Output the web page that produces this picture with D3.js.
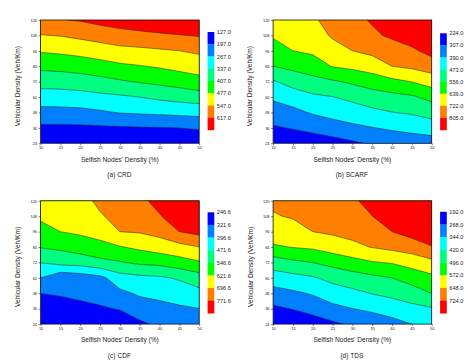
<!DOCTYPE html>
<html><head><meta charset="utf-8">
<script src="https://cdn.jsdelivr.net/npm/d3@7"></script>
<style>
body{margin:0;background:#fff}
svg text{font-family:"Liberation Sans",Arial,sans-serif;fill:#222}
</style>
</head><body>
<svg id="chart" width="474" height="363"></svg>
<script>
// ---- data ----
const xTicks = [10, 15, 20, 25, 30, 35, 40, 45, 50];            // Selfish Nodes' Density (%)
const yTicks = [24, 36, 48, 60, 72, 84, 96, 108, 120];          // Vehicular Density (Veh/Km)
const bandColors = ["#0000ff", "#0080ff", "#00ffff", "#00ff80", "#00ff00", "#ffff00", "#ff8000", "#ff0000"];

const crdLevels   = [127.0, 197.0, 267.0, 337.0, 407.0, 477.0, 547.0, 617.0];
const scarfLevels = [224.0, 307.0, 390.0, 473.0, 556.0, 639.0, 722.0, 805.0];
const cdfLevels   = [246.6, 321.6, 396.6, 471.6, 546.6, 621.6, 696.6, 771.6];
const tdsLevels   = [192.0, 268.0, 344.0, 420.0, 496.0, 572.0, 648.0, 724.0];

// one array per x value (10..50), each listing z at y = 24..120
const crdZ = [
  [123, 183, 244, 304, 364, 424, 483, 544, 607],
  [123, 183, 245, 306, 366, 428, 490, 550, 614],
  [124.5, 184.5, 248, 311, 373, 437, 500, 562, 622],
  [127, 187, 258, 320, 385, 450, 513, 576, 638],
  [129.5, 189.5, 270, 327, 399, 465, 527, 589, 652],
  [132, 192, 275, 337, 412, 474, 532, 597, 665],
  [134.5, 194.5, 279, 351, 423, 484, 539, 606, 674],
  [137, 197, 284, 362.5, 436, 498, 547, 614, 681],
  [142, 204, 290, 373, 454, 509, 558, 622, 687]
];
const scarfZ = [
  [246, 298, 350, 403, 465, 556, 602, 648, 694],
  [252, 312, 367, 433, 502, 578, 639, 670, 701],
  [261, 330, 398, 458, 529, 600, 652, 682, 705],
  [274, 353, 418, 471, 546, 643, 690, 732, 765],
  [294, 373, 433, 493, 569, 658, 722, 756, 785],
  [316, 387, 454, 518, 594, 678, 742, 792, 812],
  [333, 402, 471, 532, 618, 722, 770, 817, 865],
  [345, 414, 482, 545, 641, 738, 791, 845, 898],
  [351, 429, 504, 580, 674, 763, 832, 902, 972]
];
const cdfZ = [
  [210, 266, 322.2, 396.6, 473.6, 550.5, 592.7, 635.9, 680.9],
  [221.8, 278, 332, 340, 496, 561.3, 621.8, 648.3, 674.8],
  [240, 296.3, 344.1, 354, 504, 581, 633.6, 659.6, 672],
  [256, 312.2, 353.4, 376.6, 526.6, 598.9, 650.2, 689.7, 712],
  [270.5, 326.4, 379, 441, 541.2, 617.3, 696.8, 719.9, 743],
  [308.8, 358.3, 407.1, 454, 560, 637, 702.1, 726.6, 745],
  [334.8, 374.5, 416.3, 460.8, 568, 657.3, 720.3, 764, 807.6],
  [341.9, 386.3, 430.6, 479.8, 591.2, 672.8, 772, 832, 880],
  [342.1, 395.7, 449.3, 512, 614.8, 695.3, 793.9, 863, 930]
];
const tdsZ = [
  [192, 253.6, 315.2, 381.1, 458.7, 560, 625, 642, 662],
  [210.6, 271, 331.4, 397.1, 480.6, 575.4, 616.5, 655.1, 685.5],
  [233.9, 292.4, 351.1, 412.3, 496.8, 583.8, 648, 674.8, 701.6],
  [254.6, 324.7, 382.9, 441.6, 520.1, 608.2, 659.6, 686.2, 712.9],
  [278.7, 342.9, 401.5, 461.8, 543.4, 631.7, 669.1, 695.4, 712],
  [295.6, 359.4, 422.8, 479.1, 566.9, 651, 687, 723.1, 750],
  [317.3, 378.9, 439, 496, 577.5, 668, 724, 780, 836],
  [344, 398.9, 460.8, 526.8, 602.1, 684.2, 754.4, 824.6, 894.7],
  [352, 413, 496.5, 552.8, 629.7, 717.4, 805, 893, 980]
];

const panelTitles = ["(a) CRD", "(b) SCARF", "(c) CDF", "(d) TDS"];
const xTitle = "Selfish Nodes' Density (%)";
const yTitle = "Vehicular Density (Veh/Km)";

// ---- layout ----
const W = 158.6, H = 123.3;
const panels = [
  {title: panelTitles[0], levels: crdLevels,   z: crdZ,   left: 40.6,  top: 20,    cbTop: 32,    cbH: 98,    yLabX: 18},
  {title: panelTitles[1], levels: scarfLevels, z: scarfZ, left: 273.1, top: 20,    cbTop: 33.3,  cbH: 96.7,  yLabX: 250.5},
  {title: panelTitles[2], levels: cdfLevels,   z: cdfZ,   left: 40.6,  top: 200.8, cbTop: 212.3, cbH: 101,   yLabX: 18.3},
  {title: panelTitles[3], levels: tdsLevels,   z: tdsZ,   left: 273.1, top: 200.8, cbTop: 211.8, cbH: 101.5, yLabX: 251}
];

const svg = d3.select("#chart");
const defs = svg.append("defs");

panels.forEach((p, pi) => {
  const x = d3.scaleLinear().domain([10, 50]).range([p.left, p.left + W]);
  const y = d3.scaleLinear().domain([24, 120]).range([p.top + H, p.top]);
  const nx = xTicks.length, ny = yTicks.length;
  const dxStep = xTicks[1] - xTicks[0], dyStep = yTicks[1] - yTicks[0];

  // flatten grid (row = y index, col = x index)
  const values = new Array(nx * ny);
  for (let j = 0; j < ny; j++) for (let i = 0; i < nx; i++) values[j * nx + i] = p.z[i][j];

  const contours = d3.contours().size([nx, ny]).thresholds(p.levels.slice(1))(values);
  const proj = d3.geoTransform({
    point: function (cx, cy) {
      this.stream.point(x(xTicks[0] + (cx - 0.5) * dxStep), y(yTicks[0] + (cy - 0.5) * dyStep));
    }
  });
  const path = d3.geoPath(proj);

  const clipId = "clip" + pi;
  defs.append("clipPath").attr("id", clipId).append("rect")
    .attr("x", p.left).attr("y", p.top).attr("width", W).attr("height", H);

  const g = svg.append("g").attr("clip-path", `url(#${clipId})`);
  g.append("rect").attr("x", p.left).attr("y", p.top).attr("width", W).attr("height", H)
    .attr("fill", bandColors[0]);
  g.selectAll("path.band").data(contours).join("path")
    .attr("class", "band")
    .attr("d", path)
    .attr("fill", (d, k) => bandColors[k + 1])
    .attr("stroke", "#2a2a2a")
    .attr("stroke-width", 0.55)
    .attr("stroke-linejoin", "round");

  // frame
  svg.append("rect").attr("x", p.left).attr("y", p.top).attr("width", W).attr("height", H)
    .attr("fill", "none").attr("stroke", "#111").attr("stroke-width", 0.8);

  // axes
  const ax = svg.append("g").attr("transform", `translate(0,${p.top + H})`)
    .call(d3.axisBottom(x).tickValues(xTicks).tickSize(2).tickPadding(1.2));
  const ay = svg.append("g").attr("transform", `translate(${p.left},0)`)
    .call(d3.axisLeft(y).tickValues(yTicks).tickSize(2).tickPadding(1.5));
  [ax, ay].forEach(a => {
    a.select(".domain").remove();
    a.selectAll("line").attr("stroke", "#222").attr("stroke-width", 0.6);
    a.selectAll("text").attr("font-size", 4).style("font-family", '"Liberation Sans",Arial,sans-serif').attr("fill", "#333");
  });

  // axis titles
  svg.append("text").attr("x", p.left + W / 2).attr("y", p.top + H + 18.2)
    .attr("text-anchor", "middle").attr("font-size", 6.6).text(xTitle);
  svg.append("text")
    .attr("transform", `translate(${p.yLabX},${p.top + H / 2 + 4.5}) rotate(-90)`)
    .attr("text-anchor", "middle").attr("dominant-baseline", "middle")
    .attr("font-size", 6.6).text(yTitle);

  // panel caption
  svg.append("text").attr("x", p.left + W / 2 - 0.5).attr("y", p.top + H + 34)
    .attr("text-anchor", "middle").attr("font-size", 6.6).text(p.title);

  // colour bar
  const cbX = p.left + W + 8.4, cbW = 6.7;
  const cb = d3.scaleBand().domain(d3.range(bandColors.length)).range([p.cbTop, p.cbTop + p.cbH]).padding(0);
  svg.append("g").selectAll("rect").data(bandColors).join("rect")
    .attr("x", cbX).attr("y", (d, k) => cb(k)).attr("width", cbW).attr("height", cb.bandwidth() + 0.2)
    .attr("fill", d => d);
  svg.append("g").selectAll("text").data(p.levels).join("text")
    .attr("x", cbX + cbW + 2.5).attr("y", (d, k) => cb(k) + 0.6)
    .attr("dominant-baseline", "middle").attr("font-size", 5.6).attr("fill", "#333")
    .text(d => d.toFixed(1));
});
</script>
</body></html>
